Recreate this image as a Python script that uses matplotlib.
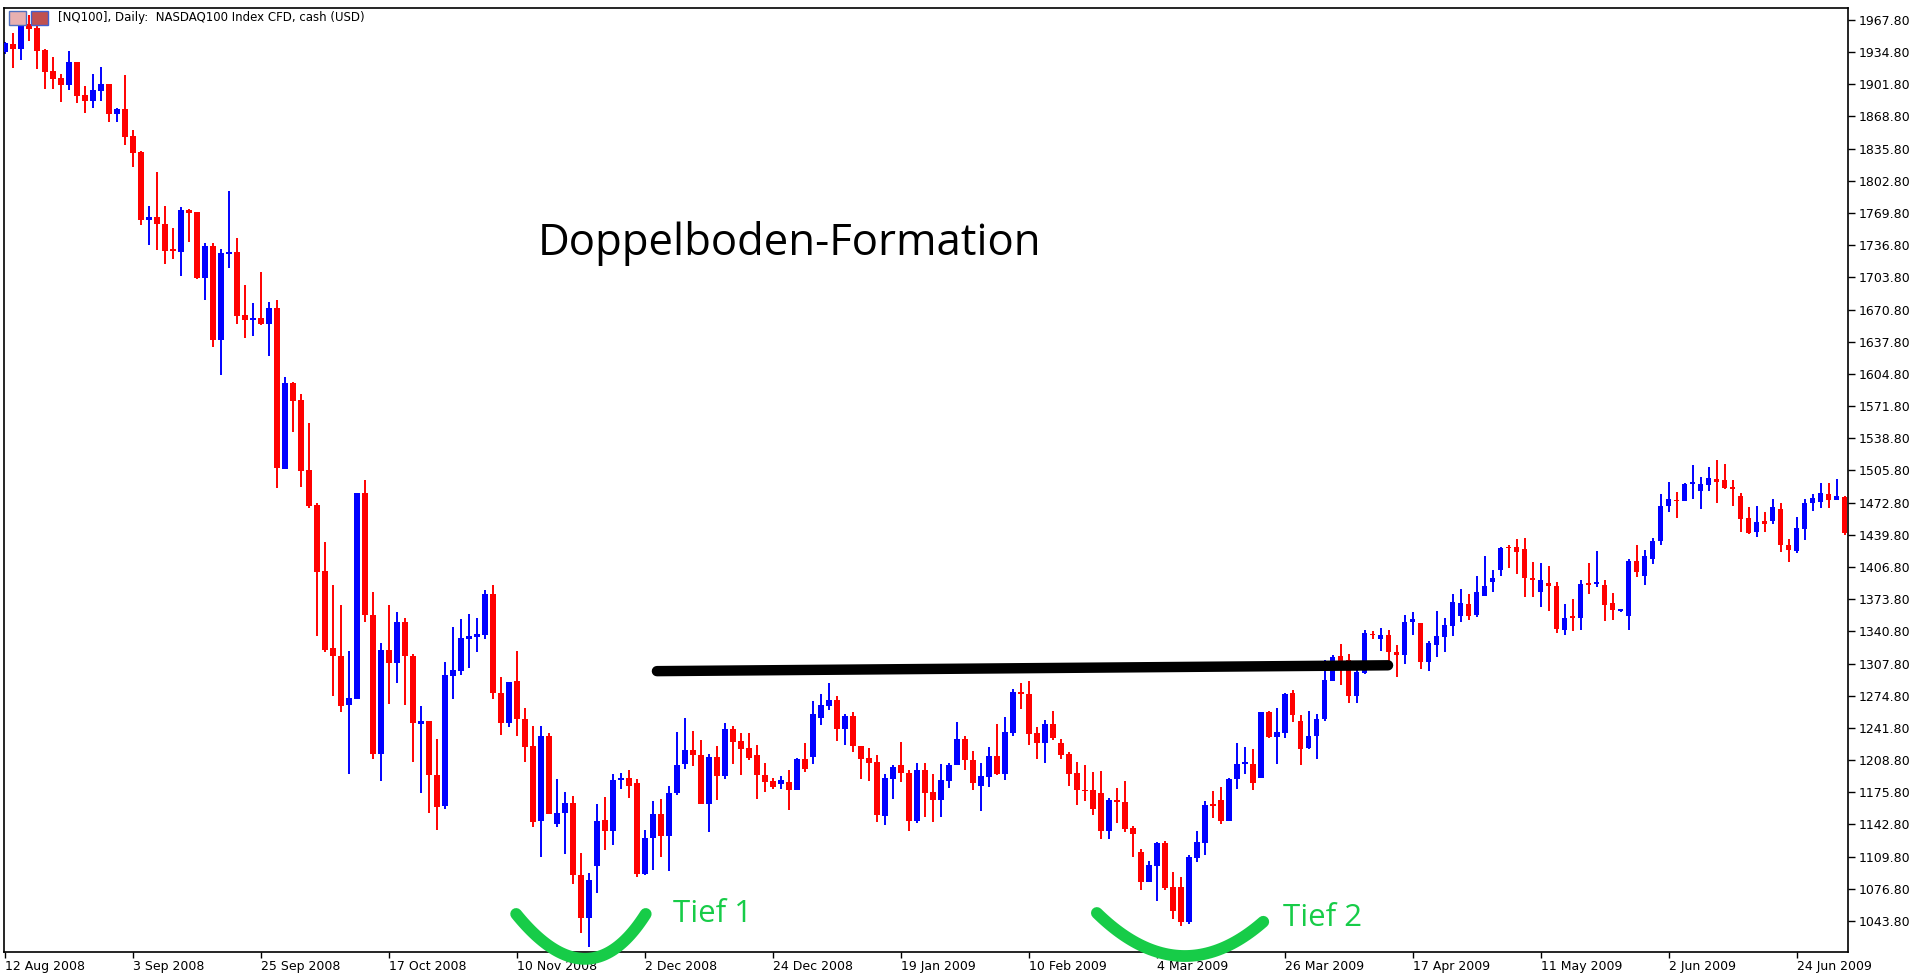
import matplotlib
matplotlib.use("Agg")
import matplotlib.pyplot as plt
import numpy as np
from matplotlib.patches import Rectangle

# OHLC data (bar index order)
opens = [1935,1943,1938,1964,1959,1937,1915,1908,1901,1925,1891,1885,1895,1902,1871,1876,1849,1832,1763,1766,
         1759,1733,1730,1773,1771,1703,1736,1640,1728,1730,1665,1660,1662,1656,1672,1507,1595,1578,1506,1470,
         1403,1324,1316,1265,1271,1483,1358,1215,1322,1308,1350,1316,1246,1249,1194,1162,1295,1300,1333,1335,
         1337,1379,1278,1247,1290,1251,1223,1146,1234,1143,1155,1165,1091,1047,1100,1147,1136,1188,1190,1185,
         1092,1129,1154,1131,1175,1205,1219,1214,1164,1212,1192,1241,1228,1221,1214,1194,1187,1184,1186,1178,
         1210,1212,1252,1264,1270,1241,1254,1223,1211,1207,1151,1189,1204,1196,1146,1199,1176,1168,1187,1204,
         1230,1209,1182,1191,1213,1195,1237,1278,1277,1237,1226,1246,1226,1215,1196,1178,1178,1175,1136,1168,
         1166,1139,1115,1084,1100,1124,1079,1079,1043,1108,1124,1163,1168,1146,1189,1205,1205,1190,1258,1232,
         1237,1278,1249,1221,1233,1251,1290,1316,1311,1274,1298,1338,1333,1337,1320,1317,1350,1349,1309,1327,
         1335,1346,1357,1369,1358,1377,1391,1404,1427,1427,1425,1396,1381,1390,1387,1342,1356,1354,1390,1389,
         1388,1370,1362,1357,1413,1398,1415,1433,1469,1475,1474,1492,1485,1491,1497,1496,1489,1480,1457,1443,
         1454,1454,1466,1429,1423,1446,1472,1473,1482,1475,1479]
highs = [1945,1954,1967,1973,1964,1938,1930,1912,1936,1925,1900,1912,1920,1902,1877,1911,1855,1833,1777,1812,
         1777,1754,1776,1774,1771,1739,1739,1733,1792,1744,1696,1678,1709,1679,1681,1602,1596,1584,1554,1472,
         1432,1388,1368,1321,1483,1496,1381,1329,1368,1361,1354,1318,1264,1249,1230,1309,1345,1353,1359,1354,
         1383,1388,1294,1289,1321,1262,1244,1244,1237,1189,1176,1172,1114,1093,1164,1171,1195,1196,1199,1189,
         1137,1167,1169,1182,1238,1252,1239,1229,1215,1223,1247,1244,1237,1237,1224,1206,1190,1192,1199,1211,
         1226,1269,1277,1288,1275,1256,1258,1223,1221,1214,1195,1204,1227,1199,1206,1206,1195,1205,1206,1248,
         1233,1218,1206,1222,1246,1253,1282,1288,1290,1243,1250,1259,1230,1217,1207,1204,1197,1198,1170,1180,
         1187,1141,1118,1105,1125,1126,1094,1089,1111,1136,1167,1177,1181,1190,1226,1222,1220,1258,1259,1262,
         1278,1281,1255,1259,1256,1311,1317,1328,1318,1309,1342,1341,1344,1342,1327,1358,1361,1349,1331,1362,
         1354,1379,1384,1379,1398,1418,1404,1427,1429,1436,1437,1412,1411,1408,1391,1369,1374,1393,1411,1423,
         1393,1380,1364,1415,1429,1424,1437,1482,1494,1484,1493,1511,1499,1509,1517,1512,1496,1483,1468,1469,
         1463,1477,1472,1436,1458,1477,1482,1493,1493,1497,1480]
lows = [1933,1918,1927,1946,1917,1897,1897,1884,1896,1883,1872,1877,1885,1863,1863,1840,1817,1757,1737,1732,
        1718,1723,1705,1740,1702,1681,1632,1604,1713,1656,1642,1644,1655,1623,1488,1508,1545,1489,1467,1336,
        1320,1274,1258,1195,1271,1350,1210,1187,1266,1288,1265,1207,1175,1155,1137,1159,1271,1296,1303,1320,
        1333,1271,1235,1243,1234,1207,1140,1109,1154,1140,1112,1082,1031,1017,1072,1117,1122,1179,1170,1089,
        1091,1096,1109,1095,1173,1200,1203,1164,1135,1168,1189,1205,1193,1209,1169,1176,1179,1179,1158,1178,
        1197,1205,1245,1260,1228,1224,1217,1189,1187,1145,1142,1169,1186,1136,1144,1150,1145,1150,1180,1204,
        1199,1178,1157,1181,1193,1188,1234,1261,1224,1210,1206,1229,1210,1182,1163,1167,1152,1128,1128,1144,
        1135,1109,1076,1084,1064,1076,1046,1039,1041,1104,1111,1149,1143,1146,1179,1195,1178,1190,1231,1205,
        1231,1248,1204,1220,1210,1249,1290,1286,1267,1267,1297,1333,1321,1310,1294,1307,1337,1302,1300,1315,
        1320,1336,1350,1352,1356,1377,1381,1398,1406,1400,1376,1376,1366,1362,1339,1337,1341,1342,1379,1386,
        1351,1352,1361,1342,1397,1388,1410,1429,1463,1457,1474,1477,1466,1485,1472,1487,1469,1443,1441,1438,
        1443,1451,1422,1412,1421,1434,1464,1467,1467,1475,1440]
closes = [1944,1938,1964,1958,1936,1914,1907,1901,1925,1890,1885,1896,1902,1871,1876,1848,1831,1763,1766,1758,
          1731,1731,1773,1770,1703,1736,1640,1729,1730,1664,1660,1662,1656,1672,1508,1595,1577,1505,1469,1402,
          1322,1316,1264,1272,1483,1358,1215,1322,1308,1350,1316,1247,1249,1194,1161,1296,1301,1334,1336,1338,
          1379,1278,1247,1289,1251,1222,1145,1234,1154,1155,1165,1091,1047,1086,1146,1136,1188,1190,1182,1092,
          1129,1154,1131,1175,1204,1219,1214,1164,1212,1192,1241,1227,1220,1211,1194,1186,1181,1188,1178,1210,
          1200,1256,1265,1270,1241,1254,1223,1210,1206,1152,1190,1202,1196,1146,1199,1175,1168,1188,1204,1230,
          1209,1185,1192,1213,1195,1238,1279,1277,1236,1226,1246,1231,1214,1195,1178,1177,1159,1136,1168,1166,
          1138,1133,1084,1101,1124,1078,1054,1043,1109,1125,1163,1162,1146,1189,1205,1207,1185,1258,1232,1238,
          1277,1255,1220,1234,1251,1291,1314,1310,1274,1299,1339,1337,1337,1320,1317,1350,1353,1309,1329,1336,
          1347,1371,1370,1357,1381,1387,1396,1426,1426,1422,1396,1393,1393,1387,1343,1355,1355,1389,1388,1391,
          1368,1363,1363,1413,1402,1418,1433,1469,1477,1474,1492,1493,1492,1498,1494,1488,1487,1456,1442,1453,
          1451,1468,1429,1424,1447,1472,1478,1483,1476,1480,1442]

date_labels = ["12 Aug 2008", "3 Sep 2008", "25 Sep 2008", "17 Oct 2008", "10 Nov 2008", "2 Dec 2008",
               "24 Dec 2008", "19 Jan 2009", "10 Feb 2009", "4 Mar 2009", "26 Mar 2009", "17 Apr 2009",
               "11 May 2009", "2 Jun 2009", "24 Jun 2009"]
price_ticks = [1043.8 + 33 * k for k in range(29)]

# resistance line and lows (annotation data)
res_x = [81.5, 172.9]
res_y = [1300, 1306]
tief1 = ([63.9, 72.5, 80.1], [1051, 1005, 1051])
tief2 = ([136.5, 146.9, 157.3], [1052, 1008, 1043])

W, H = 1918, 974
fig = plt.figure(figsize=(W/100, H/100), dpi=100)
ax = fig.add_axes([4/W, (H-952)/H, (1848-4)/W, (952-8)/H])

o = np.array(opens, float); h = np.array(highs, float); l = np.array(lows, float); c = np.array(closes, float)
x = np.arange(len(o))
up = c >= o
cols = np.where(up, '#0000ff', '#ff0000')
ax.vlines(x, l, h, colors=cols, linewidth=1.4, zorder=2)
bot = np.minimum(o, c)
hgt = np.maximum(np.abs(c - o), 1.5)
ax.bar(x, hgt, bottom=bot, width=0.66, color=cols, linewidth=0, zorder=3)

ax.set_xlim(-0.125, 230.4)
ax.set_ylim(1012, 1980)

ax.yaxis.tick_right()
ax.set_yticks(price_ticks)
ax.set_yticklabels([f"{v:.2f}" for v in price_ticks], fontsize=9, family="DejaVu Sans")
ax.tick_params(axis='y', length=5, width=1, pad=3, direction='out')
ax.set_xticks([16 * k for k in range(len(date_labels))])
ax.set_xticklabels(date_labels, fontsize=9, ha='left', family="DejaVu Sans")
ax.tick_params(axis='x', length=4, width=1, pad=2)
for s in ax.spines.values():
    s.set_linewidth(1.2)

ax.plot(res_x, res_y, color='black', lw=7.5, solid_capstyle='round', zorder=5)

def bezier(px, py):
    t = np.linspace(0, 1, 60)
    bx = (1-t)**2*px[0] + 2*(1-t)*t*px[1] + t**2*px[2]
    by = (1-t)**2*py[0] + 2*(1-t)*t*py[1] + t**2*py[2]
    return bx, by

green = '#17cc48'
for px, py in (tief1, tief2):
    cx = 2*px[1] - 0.5*(px[0]+px[2]); cy = 2*py[1] - 0.5*(py[0]+py[2])
    bx, by = bezier([px[0], cx, px[2]], [py[0], cy, py[2]])
    ax.plot(bx, by, color=green, lw=8.5, solid_capstyle='round', clip_on=False, zorder=6)

ax.text(83.5, 1051, "Tief 1", color=green, fontsize=22.5, va='center', ha='left', family='Open Sans')
ax.text(159.8, 1047, "Tief 2", color=green, fontsize=22.5, va='center', ha='left', family='Open Sans')
ax.text(66.6, 1739, "Doppelboden-Formation", color='black', fontsize=31.5, va='center', ha='left', family='Open Sans')

fig.text(58/W, 1-18/H, "[NQ100], Daily:  NASDAQ100 Index CFD, cash (USD)", fontsize=8.5, va='center', ha='left',
         family='DejaVu Sans')
fig.patches.append(Rectangle((9/W, 1-25/H), 17/W, 14/H, transform=fig.transFigure, facecolor='#e8b0b0', edgecolor='#5070c0', lw=1))
fig.patches.append(Rectangle((31/W, 1-25/H), 17/W, 14/H, transform=fig.transFigure, facecolor='#c05050', edgecolor='#4060d0', lw=1))

fig.savefig("out.png", dpi=100)
